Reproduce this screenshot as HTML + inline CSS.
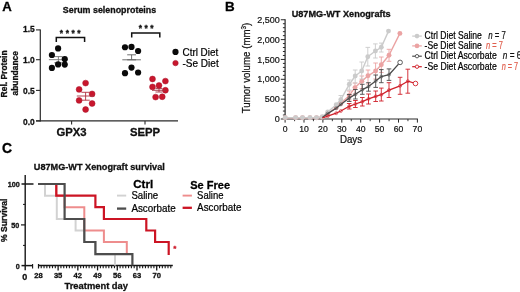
<!DOCTYPE html>
<html lang="en"><head><meta charset="utf-8"><title>Figure</title>
<style>
html,body{margin:0;padding:0;background:#fff;}
body{width:520px;height:292px;overflow:hidden;}
svg{display:block;font-family:'Liberation Sans', Arial, sans-serif;}
</style></head><body>
<svg width="520" height="292" viewBox="0 0 520 292">
<rect width="520" height="292" fill="#ffffff"/>
<g id="panelA">
<text x="2.3" y="11.2" font-size="13.2" font-weight="700" fill="#000" stroke="#000" stroke-width="0.3">A</text>
<text x="62.8" y="12.9" font-size="9.2" font-weight="700" fill="#111" stroke="#111" stroke-width="0.3" textLength="93.4" lengthAdjust="spacingAndGlyphs">Serum selenoproteins</text>
<line x1="40.3" y1="29.4" x2="40.3" y2="121.4" stroke="#2a2a2a" stroke-width="1.2"/>
<line x1="36" y1="120.9" x2="178" y2="120.9" stroke="#2a2a2a" stroke-width="1.2"/>
<line x1="36" y1="29.9" x2="40.3" y2="29.9" stroke="#2a2a2a" stroke-width="1.1"/>
<text x="34.7" y="32.4" font-size="9.7" font-weight="700" text-anchor="end" fill="#111" stroke="#111" stroke-width="0.3" textLength="11.7" lengthAdjust="spacingAndGlyphs">1.5</text>
<line x1="36" y1="59.7" x2="40.3" y2="59.7" stroke="#2a2a2a" stroke-width="1.1"/>
<text x="34.7" y="63.25" font-size="9.7" font-weight="700" text-anchor="end" fill="#111" stroke="#111" stroke-width="0.3" textLength="11.7" lengthAdjust="spacingAndGlyphs">1.0</text>
<line x1="36" y1="90.4" x2="40.3" y2="90.4" stroke="#2a2a2a" stroke-width="1.1"/>
<text x="34.7" y="93.7" font-size="9.7" font-weight="700" text-anchor="end" fill="#111" stroke="#111" stroke-width="0.3" textLength="11.7" lengthAdjust="spacingAndGlyphs">0.5</text>
<line x1="36" y1="120.9" x2="40.3" y2="120.9" stroke="#2a2a2a" stroke-width="1.1"/>
<text x="34.7" y="124.5" font-size="9.7" font-weight="700" text-anchor="end" fill="#111" stroke="#111" stroke-width="0.3" textLength="11.7" lengthAdjust="spacingAndGlyphs">0.0</text>
<line x1="71.6" y1="120.9" x2="71.6" y2="124.4" stroke="#2a2a2a" stroke-width="1.1"/>
<line x1="145" y1="120.9" x2="145" y2="124.4" stroke="#2a2a2a" stroke-width="1.1"/>
<text x="71.6" y="136.4" font-size="11.3" font-weight="700" text-anchor="middle" fill="#111" stroke="#111" stroke-width="0.3">GPX3</text>
<text x="145" y="136.4" font-size="11.3" font-weight="700" text-anchor="middle" fill="#111" stroke="#111" stroke-width="0.3">SEPP</text>
<text font-size="8.5" font-weight="700" fill="#111" stroke="#111" stroke-width="0.3" text-anchor="middle" transform="translate(6.9 73.9) rotate(-90)" textLength="47" lengthAdjust="spacingAndGlyphs">Rel. Protein</text>
<text font-size="8.4" font-weight="700" fill="#111" stroke="#111" stroke-width="0.3" text-anchor="middle" transform="translate(17.5 73.3) rotate(-90)" textLength="44.4" lengthAdjust="spacingAndGlyphs">abundance</text>
<path d="M56.3 42 V37.6 H84.6 V42" fill="none" stroke="#111" stroke-width="1.5"/>
<path d="M131.7 37.4 V33 H159.8 V37.4" fill="none" stroke="#111" stroke-width="1.5"/>
<text x="61.3" y="35.8" font-size="8.4" font-weight="700" text-anchor="middle" fill="#111" stroke="#111" stroke-width="0.3">*</text>
<text x="67.4" y="35.8" font-size="8.4" font-weight="700" text-anchor="middle" fill="#111" stroke="#111" stroke-width="0.3">*</text>
<text x="73.2" y="35.8" font-size="8.4" font-weight="700" text-anchor="middle" fill="#111" stroke="#111" stroke-width="0.3">*</text>
<text x="78.9" y="35.8" font-size="8.4" font-weight="700" text-anchor="middle" fill="#111" stroke="#111" stroke-width="0.3">*</text>
<text x="140.4" y="30.9" font-size="8.4" font-weight="700" text-anchor="middle" fill="#111" stroke="#111" stroke-width="0.3">*</text>
<text x="146.2" y="30.9" font-size="8.4" font-weight="700" text-anchor="middle" fill="#111" stroke="#111" stroke-width="0.3">*</text>
<text x="151.9" y="30.9" font-size="8.4" font-weight="700" text-anchor="middle" fill="#111" stroke="#111" stroke-width="0.3">*</text>
<line x1="48.9" y1="59.7" x2="67.9" y2="59.7" stroke="#707070" stroke-width="0.9"/>
<line x1="58.4" y1="56.6" x2="58.4" y2="62.8" stroke="#707070" stroke-width="0.9"/>
<line x1="54.199999999999996" y1="56.6" x2="62.6" y2="56.6" stroke="#707070" stroke-width="0.9"/>
<line x1="54.199999999999996" y1="62.8" x2="62.6" y2="62.8" stroke="#707070" stroke-width="0.9"/>
<circle cx="58.1" cy="48.4" r="3.1" fill="#0a0a0a"/>
<circle cx="51.9" cy="55" r="3.1" fill="#0a0a0a"/>
<circle cx="64.75" cy="59" r="3.1" fill="#0a0a0a"/>
<circle cx="58.1" cy="64.4" r="3.1" fill="#0a0a0a"/>
<circle cx="64.75" cy="64.6" r="3.1" fill="#0a0a0a"/>
<circle cx="51.9" cy="67.9" r="3.1" fill="#0a0a0a"/>
<circle cx="85.6" cy="83.1" r="2.95" fill="#c8172d" stroke="#a8122a" stroke-width="0.5"/>
<circle cx="79.1" cy="89.4" r="2.95" fill="#c8172d" stroke="#a8122a" stroke-width="0.5"/>
<circle cx="92.1" cy="93.9" r="2.95" fill="#c8172d" stroke="#a8122a" stroke-width="0.5"/>
<circle cx="79.1" cy="100.4" r="2.95" fill="#c8172d" stroke="#a8122a" stroke-width="0.5"/>
<circle cx="92.1" cy="103.5" r="2.95" fill="#c8172d" stroke="#a8122a" stroke-width="0.5"/>
<circle cx="85.6" cy="109.5" r="2.95" fill="#c8172d" stroke="#a8122a" stroke-width="0.5"/>
<line x1="76.8" y1="96" x2="94.39999999999999" y2="96" stroke="#b03040" stroke-width="0.9"/>
<line x1="85.6" y1="92.3" x2="85.6" y2="100.2" stroke="#b03040" stroke-width="0.9"/>
<line x1="81.39999999999999" y1="92.3" x2="89.8" y2="92.3" stroke="#b03040" stroke-width="0.9"/>
<line x1="81.39999999999999" y1="100.2" x2="89.8" y2="100.2" stroke="#b03040" stroke-width="0.9"/>
<line x1="122.3" y1="59.8" x2="140.9" y2="59.8" stroke="#606060" stroke-width="0.9"/>
<line x1="131.6" y1="54.8" x2="131.6" y2="59.8" stroke="#606060" stroke-width="0.9"/>
<line x1="127.19999999999999" y1="54.8" x2="136.0" y2="54.8" stroke="#606060" stroke-width="0.9"/>
<line x1="127.19999999999999" y1="59.8" x2="136.0" y2="59.8" stroke="#606060" stroke-width="0.9"/>
<circle cx="125" cy="47.25" r="3.1" fill="#0a0a0a"/>
<circle cx="131.5" cy="46.9" r="3.1" fill="#0a0a0a"/>
<circle cx="138.1" cy="51" r="3.1" fill="#0a0a0a"/>
<circle cx="131.5" cy="67.6" r="3.1" fill="#0a0a0a"/>
<circle cx="125" cy="73.2" r="3.1" fill="#0a0a0a"/>
<circle cx="138.1" cy="72.5" r="3.1" fill="#0a0a0a"/>
<circle cx="152.5" cy="79" r="2.95" fill="#c8172d" stroke="#a8122a" stroke-width="0.5"/>
<circle cx="165.4" cy="81.1" r="2.95" fill="#c8172d" stroke="#a8122a" stroke-width="0.5"/>
<circle cx="159" cy="85.5" r="2.95" fill="#c8172d" stroke="#a8122a" stroke-width="0.5"/>
<circle cx="152.5" cy="86.9" r="2.95" fill="#c8172d" stroke="#a8122a" stroke-width="0.5"/>
<circle cx="165.4" cy="90.25" r="2.95" fill="#c8172d" stroke="#a8122a" stroke-width="0.5"/>
<circle cx="155.6" cy="97.1" r="2.95" fill="#c8172d" stroke="#a8122a" stroke-width="0.5"/>
<circle cx="162.25" cy="96.75" r="2.95" fill="#c8172d" stroke="#a8122a" stroke-width="0.5"/>
<line x1="152" y1="90.3" x2="166" y2="90.3" stroke="#a03040" stroke-width="0.9"/>
<line x1="159" y1="88.6" x2="159" y2="92" stroke="#a03040" stroke-width="0.9"/>
<line x1="155.5" y1="88.6" x2="162.5" y2="88.6" stroke="#a03040" stroke-width="0.9"/>
<line x1="155.5" y1="92" x2="162.5" y2="92" stroke="#a03040" stroke-width="0.9"/>
<circle cx="175.5" cy="51.9" r="3.1" fill="#0a0a0a"/>
<circle cx="175.5" cy="63.1" r="2.7" fill="#c8172d" stroke="#a8122a" stroke-width="0.6"/>
<text x="182.5" y="55.5" font-size="10.6" fill="#000" stroke="#000" stroke-width="0.22" textLength="35.7" lengthAdjust="spacingAndGlyphs">Ctrl Diet</text>
<text x="182.5" y="66.6" font-size="10.6" fill="#000" stroke="#000" stroke-width="0.22" textLength="36.2" lengthAdjust="spacingAndGlyphs">-Se Diet</text>
</g>
<g id="panelB">
<text x="225.1" y="10.8" font-size="13.4" font-weight="700" fill="#000" stroke="#000" stroke-width="0.3">B</text>
<text x="291.7" y="17.0" font-size="9.1" font-weight="700" fill="#111" stroke="#111" stroke-width="0.3" textLength="99" lengthAdjust="spacingAndGlyphs">U87MG-WT Xenografts</text>
<line x1="285.1" y1="19.3" x2="285.1" y2="119.5" stroke="#2a2a2a" stroke-width="1.2"/>
<line x1="284.5" y1="119.0" x2="417.9" y2="119.0" stroke="#2a2a2a" stroke-width="1.2"/>
<line x1="280.8" y1="119.0" x2="285.1" y2="119.0" stroke="#2a2a2a" stroke-width="1"/>
<text transform="translate(279.70000000000005 122.1) scale(0.95 1)" font-size="9.5" text-anchor="end" fill="#111" stroke="#111" stroke-width="0.22">0</text>
<line x1="282.90000000000003" y1="115.03" x2="285.1" y2="115.03" stroke="#2a2a2a" stroke-width="1"/>
<line x1="282.90000000000003" y1="111.06" x2="285.1" y2="111.06" stroke="#2a2a2a" stroke-width="1"/>
<line x1="282.90000000000003" y1="107.09" x2="285.1" y2="107.09" stroke="#2a2a2a" stroke-width="1"/>
<line x1="282.90000000000003" y1="103.12" x2="285.1" y2="103.12" stroke="#2a2a2a" stroke-width="1"/>
<line x1="280.8" y1="99.15" x2="285.1" y2="99.15" stroke="#2a2a2a" stroke-width="1"/>
<text transform="translate(279.70000000000005 102.25) scale(0.95 1)" font-size="9.5" text-anchor="end" fill="#111" stroke="#111" stroke-width="0.22">500</text>
<line x1="282.90000000000003" y1="95.18" x2="285.1" y2="95.18" stroke="#2a2a2a" stroke-width="1"/>
<line x1="282.90000000000003" y1="91.21000000000001" x2="285.1" y2="91.21000000000001" stroke="#2a2a2a" stroke-width="1"/>
<line x1="282.90000000000003" y1="87.24000000000001" x2="285.1" y2="87.24000000000001" stroke="#2a2a2a" stroke-width="1"/>
<line x1="282.90000000000003" y1="83.27000000000001" x2="285.1" y2="83.27000000000001" stroke="#2a2a2a" stroke-width="1"/>
<line x1="280.8" y1="79.30000000000001" x2="285.1" y2="79.30000000000001" stroke="#2a2a2a" stroke-width="1"/>
<text transform="translate(279.70000000000005 82.4) scale(0.95 1)" font-size="9.5" text-anchor="end" fill="#111" stroke="#111" stroke-width="0.22">1,000</text>
<line x1="282.90000000000003" y1="75.33" x2="285.1" y2="75.33" stroke="#2a2a2a" stroke-width="1"/>
<line x1="282.90000000000003" y1="71.36" x2="285.1" y2="71.36" stroke="#2a2a2a" stroke-width="1"/>
<line x1="282.90000000000003" y1="67.39" x2="285.1" y2="67.39" stroke="#2a2a2a" stroke-width="1"/>
<line x1="282.90000000000003" y1="63.42" x2="285.1" y2="63.42" stroke="#2a2a2a" stroke-width="1"/>
<line x1="280.8" y1="59.45" x2="285.1" y2="59.45" stroke="#2a2a2a" stroke-width="1"/>
<text transform="translate(279.70000000000005 62.550000000000004) scale(0.95 1)" font-size="9.5" text-anchor="end" fill="#111" stroke="#111" stroke-width="0.22">1,500</text>
<line x1="282.90000000000003" y1="55.480000000000004" x2="285.1" y2="55.480000000000004" stroke="#2a2a2a" stroke-width="1"/>
<line x1="282.90000000000003" y1="51.510000000000005" x2="285.1" y2="51.510000000000005" stroke="#2a2a2a" stroke-width="1"/>
<line x1="282.90000000000003" y1="47.540000000000006" x2="285.1" y2="47.540000000000006" stroke="#2a2a2a" stroke-width="1"/>
<line x1="282.90000000000003" y1="43.57000000000001" x2="285.1" y2="43.57000000000001" stroke="#2a2a2a" stroke-width="1"/>
<line x1="280.8" y1="39.60000000000001" x2="285.1" y2="39.60000000000001" stroke="#2a2a2a" stroke-width="1"/>
<text transform="translate(279.70000000000005 42.70000000000001) scale(0.95 1)" font-size="9.5" text-anchor="end" fill="#111" stroke="#111" stroke-width="0.22">2,000</text>
<line x1="282.90000000000003" y1="35.629999999999995" x2="285.1" y2="35.629999999999995" stroke="#2a2a2a" stroke-width="1"/>
<line x1="282.90000000000003" y1="31.659999999999997" x2="285.1" y2="31.659999999999997" stroke="#2a2a2a" stroke-width="1"/>
<line x1="282.90000000000003" y1="27.689999999999998" x2="285.1" y2="27.689999999999998" stroke="#2a2a2a" stroke-width="1"/>
<line x1="282.90000000000003" y1="23.72" x2="285.1" y2="23.72" stroke="#2a2a2a" stroke-width="1"/>
<line x1="280.8" y1="19.75" x2="285.1" y2="19.75" stroke="#2a2a2a" stroke-width="1"/>
<text transform="translate(279.70000000000005 22.85) scale(0.95 1)" font-size="9.5" text-anchor="end" fill="#111" stroke="#111" stroke-width="0.22">2,500</text>
<line x1="285.1" y1="119.0" x2="285.1" y2="122.6" stroke="#2a2a2a" stroke-width="1"/>
<text transform="translate(285.1 132.2) scale(0.9 1)" font-size="9.6" text-anchor="middle" fill="#111" stroke="#111" stroke-width="0.22">0</text>
<line x1="294.55" y1="119.0" x2="294.55" y2="121.2" stroke="#2a2a2a" stroke-width="0.9"/>
<line x1="304.0" y1="119.0" x2="304.0" y2="122.6" stroke="#2a2a2a" stroke-width="1"/>
<text transform="translate(304.0 132.2) scale(0.9 1)" font-size="9.6" text-anchor="middle" fill="#111" stroke="#111" stroke-width="0.22">10</text>
<line x1="313.45000000000005" y1="119.0" x2="313.45000000000005" y2="121.2" stroke="#2a2a2a" stroke-width="0.9"/>
<line x1="322.90000000000003" y1="119.0" x2="322.90000000000003" y2="122.6" stroke="#2a2a2a" stroke-width="1"/>
<text transform="translate(322.90000000000003 132.2) scale(0.9 1)" font-size="9.6" text-anchor="middle" fill="#111" stroke="#111" stroke-width="0.22">20</text>
<line x1="332.35" y1="119.0" x2="332.35" y2="121.2" stroke="#2a2a2a" stroke-width="0.9"/>
<line x1="341.8" y1="119.0" x2="341.8" y2="122.6" stroke="#2a2a2a" stroke-width="1"/>
<text transform="translate(341.8 132.2) scale(0.9 1)" font-size="9.6" text-anchor="middle" fill="#111" stroke="#111" stroke-width="0.22">30</text>
<line x1="351.25" y1="119.0" x2="351.25" y2="121.2" stroke="#2a2a2a" stroke-width="0.9"/>
<line x1="360.70000000000005" y1="119.0" x2="360.70000000000005" y2="122.6" stroke="#2a2a2a" stroke-width="1"/>
<text transform="translate(360.70000000000005 132.2) scale(0.9 1)" font-size="9.6" text-anchor="middle" fill="#111" stroke="#111" stroke-width="0.22">40</text>
<line x1="370.15000000000003" y1="119.0" x2="370.15000000000003" y2="121.2" stroke="#2a2a2a" stroke-width="0.9"/>
<line x1="379.6" y1="119.0" x2="379.6" y2="122.6" stroke="#2a2a2a" stroke-width="1"/>
<text transform="translate(379.6 132.2) scale(0.9 1)" font-size="9.6" text-anchor="middle" fill="#111" stroke="#111" stroke-width="0.22">50</text>
<line x1="389.05" y1="119.0" x2="389.05" y2="121.2" stroke="#2a2a2a" stroke-width="0.9"/>
<line x1="398.5" y1="119.0" x2="398.5" y2="122.6" stroke="#2a2a2a" stroke-width="1"/>
<text transform="translate(398.5 132.2) scale(0.9 1)" font-size="9.6" text-anchor="middle" fill="#111" stroke="#111" stroke-width="0.22">60</text>
<line x1="407.95000000000005" y1="119.0" x2="407.95000000000005" y2="121.2" stroke="#2a2a2a" stroke-width="0.9"/>
<line x1="417.4" y1="119.0" x2="417.4" y2="122.6" stroke="#2a2a2a" stroke-width="1"/>
<text transform="translate(417.4 132.2) scale(0.9 1)" font-size="9.6" text-anchor="middle" fill="#111" stroke="#111" stroke-width="0.22">70</text>
<text x="351" y="143.4" font-size="10.2" text-anchor="middle" fill="#111" stroke="#111" stroke-width="0.22" textLength="22.2" lengthAdjust="spacingAndGlyphs">Days</text>
<text font-size="10" fill="#111" stroke="#111" stroke-width="0.22" transform="translate(250 113.2) rotate(-90)"><tspan textLength="83.8" lengthAdjust="spacingAndGlyphs">Tumor volume (mm</tspan><tspan font-size="6.3" dy="-4.2">3</tspan><tspan dy="4.2">)</tspan></text>
<line x1="349.3" y1="91" x2="349.3" y2="100" stroke="#eba3a3" stroke-width="0.9"/>
<line x1="347.0" y1="91" x2="351.6" y2="91" stroke="#eba3a3" stroke-width="0.9"/>
<line x1="347.0" y1="100" x2="351.6" y2="100" stroke="#eba3a3" stroke-width="0.9"/>
<line x1="355" y1="83" x2="355" y2="94" stroke="#eba3a3" stroke-width="0.9"/>
<line x1="352.7" y1="83" x2="357.3" y2="83" stroke="#eba3a3" stroke-width="0.9"/>
<line x1="352.7" y1="94" x2="357.3" y2="94" stroke="#eba3a3" stroke-width="0.9"/>
<line x1="361.8" y1="76" x2="361.8" y2="88.5" stroke="#eba3a3" stroke-width="0.9"/>
<line x1="359.5" y1="76" x2="364.1" y2="76" stroke="#eba3a3" stroke-width="0.9"/>
<line x1="359.5" y1="88.5" x2="364.1" y2="88.5" stroke="#eba3a3" stroke-width="0.9"/>
<line x1="368" y1="70" x2="368" y2="84" stroke="#eba3a3" stroke-width="0.9"/>
<line x1="365.7" y1="70" x2="370.3" y2="70" stroke="#eba3a3" stroke-width="0.9"/>
<line x1="365.7" y1="84" x2="370.3" y2="84" stroke="#eba3a3" stroke-width="0.9"/>
<line x1="375.6" y1="63" x2="375.6" y2="79" stroke="#eba3a3" stroke-width="0.9"/>
<line x1="373.3" y1="63" x2="377.90000000000003" y2="63" stroke="#eba3a3" stroke-width="0.9"/>
<line x1="373.3" y1="79" x2="377.90000000000003" y2="79" stroke="#eba3a3" stroke-width="0.9"/>
<line x1="381.3" y1="57" x2="381.3" y2="72.5" stroke="#eba3a3" stroke-width="0.9"/>
<line x1="379.0" y1="57" x2="383.6" y2="57" stroke="#eba3a3" stroke-width="0.9"/>
<line x1="379.0" y1="72.5" x2="383.6" y2="72.5" stroke="#eba3a3" stroke-width="0.9"/>
<line x1="389" y1="49.3" x2="389" y2="61.3" stroke="#eba3a3" stroke-width="0.9"/>
<line x1="386.7" y1="49.3" x2="391.3" y2="49.3" stroke="#eba3a3" stroke-width="0.9"/>
<line x1="386.7" y1="61.3" x2="391.3" y2="61.3" stroke="#eba3a3" stroke-width="0.9"/>
<polyline points="285.2,117.8 295.6,117.8 302.5,117.8 310,117.8 316.5,117.8 322.3,117.2 327.7,113.5 336.2,107.5 340.8,103.5 349.3,95.4 355,87.6 361.8,81.2 368,75.8 375.6,71 381.3,64.8 389,55.3 399.9,33.4" fill="none" stroke="#eba3a3" stroke-width="1.4" stroke-linejoin="round"/>
<circle cx="285.2" cy="117.8" r="2.45" fill="#eba3a3"/>
<circle cx="295.6" cy="117.8" r="2.45" fill="#eba3a3"/>
<circle cx="302.5" cy="117.8" r="2.45" fill="#eba3a3"/>
<circle cx="310" cy="117.8" r="2.45" fill="#eba3a3"/>
<circle cx="316.5" cy="117.8" r="2.45" fill="#eba3a3"/>
<circle cx="322.3" cy="117.2" r="2.45" fill="#eba3a3"/>
<circle cx="327.7" cy="113.5" r="2.45" fill="#eba3a3"/>
<circle cx="336.2" cy="107.5" r="2.45" fill="#eba3a3"/>
<circle cx="340.8" cy="103.5" r="2.45" fill="#eba3a3"/>
<circle cx="349.3" cy="95.4" r="2.45" fill="#eba3a3"/>
<circle cx="355" cy="87.6" r="2.45" fill="#eba3a3"/>
<circle cx="361.8" cy="81.2" r="2.45" fill="#eba3a3"/>
<circle cx="368" cy="75.8" r="2.45" fill="#eba3a3"/>
<circle cx="375.6" cy="71" r="2.45" fill="#eba3a3"/>
<circle cx="381.3" cy="64.8" r="2.45" fill="#eba3a3"/>
<circle cx="389" cy="55.3" r="2.45" fill="#eba3a3"/>
<circle cx="399.9" cy="33.4" r="2.45" fill="#eba3a3"/>
<line x1="340.8" y1="95.5" x2="340.8" y2="103.5" stroke="#cbcbcb" stroke-width="0.9"/>
<line x1="338.5" y1="95.5" x2="343.1" y2="95.5" stroke="#cbcbcb" stroke-width="0.9"/>
<line x1="338.5" y1="103.5" x2="343.1" y2="103.5" stroke="#cbcbcb" stroke-width="0.9"/>
<line x1="349.3" y1="80" x2="349.3" y2="90" stroke="#cbcbcb" stroke-width="0.9"/>
<line x1="347.0" y1="80" x2="351.6" y2="80" stroke="#cbcbcb" stroke-width="0.9"/>
<line x1="347.0" y1="90" x2="351.6" y2="90" stroke="#cbcbcb" stroke-width="0.9"/>
<line x1="355.2" y1="70" x2="355.2" y2="83" stroke="#cbcbcb" stroke-width="0.9"/>
<line x1="352.9" y1="70" x2="357.5" y2="70" stroke="#cbcbcb" stroke-width="0.9"/>
<line x1="352.9" y1="83" x2="357.5" y2="83" stroke="#cbcbcb" stroke-width="0.9"/>
<line x1="361.7" y1="62" x2="361.7" y2="79" stroke="#cbcbcb" stroke-width="0.9"/>
<line x1="359.4" y1="62" x2="364.0" y2="62" stroke="#cbcbcb" stroke-width="0.9"/>
<line x1="359.4" y1="79" x2="364.0" y2="79" stroke="#cbcbcb" stroke-width="0.9"/>
<line x1="367.8" y1="47.4" x2="367.8" y2="66" stroke="#cbcbcb" stroke-width="0.9"/>
<line x1="365.5" y1="47.4" x2="370.1" y2="47.4" stroke="#cbcbcb" stroke-width="0.9"/>
<line x1="365.5" y1="66" x2="370.1" y2="66" stroke="#cbcbcb" stroke-width="0.9"/>
<line x1="375.4" y1="43.9" x2="375.4" y2="58" stroke="#cbcbcb" stroke-width="0.9"/>
<line x1="373.09999999999997" y1="43.9" x2="377.7" y2="43.9" stroke="#cbcbcb" stroke-width="0.9"/>
<line x1="373.09999999999997" y1="58" x2="377.7" y2="58" stroke="#cbcbcb" stroke-width="0.9"/>
<line x1="381.3" y1="43.1" x2="381.3" y2="52" stroke="#cbcbcb" stroke-width="0.9"/>
<line x1="379.0" y1="43.1" x2="383.6" y2="43.1" stroke="#cbcbcb" stroke-width="0.9"/>
<line x1="379.0" y1="52" x2="383.6" y2="52" stroke="#cbcbcb" stroke-width="0.9"/>
<polyline points="285.2,117.6 295.6,117.6 302.5,117.6 310,117.6 316.5,117.6 322.3,116.8 327.7,112 336.2,104.7 340.8,99.7 349.3,84.3 355.2,76 361.7,71 367.8,56.8 375.4,51 381.3,47.3 388.5,31.1" fill="none" stroke="#cbcbcb" stroke-width="1.4" stroke-linejoin="round"/>
<circle cx="285.2" cy="117.6" r="2.45" fill="#cbcbcb"/>
<circle cx="295.6" cy="117.6" r="2.45" fill="#cbcbcb"/>
<circle cx="302.5" cy="117.6" r="2.45" fill="#cbcbcb"/>
<circle cx="310" cy="117.6" r="2.45" fill="#cbcbcb"/>
<circle cx="316.5" cy="117.6" r="2.45" fill="#cbcbcb"/>
<circle cx="322.3" cy="116.8" r="2.45" fill="#cbcbcb"/>
<circle cx="327.7" cy="112" r="2.45" fill="#cbcbcb"/>
<circle cx="336.2" cy="104.7" r="2.45" fill="#cbcbcb"/>
<circle cx="340.8" cy="99.7" r="2.45" fill="#cbcbcb"/>
<circle cx="349.3" cy="84.3" r="2.45" fill="#cbcbcb"/>
<circle cx="355.2" cy="76" r="2.45" fill="#cbcbcb"/>
<circle cx="361.7" cy="71" r="2.45" fill="#cbcbcb"/>
<circle cx="367.8" cy="56.8" r="2.45" fill="#cbcbcb"/>
<circle cx="375.4" cy="51" r="2.45" fill="#cbcbcb"/>
<circle cx="381.3" cy="47.3" r="2.45" fill="#cbcbcb"/>
<circle cx="388.5" cy="31.1" r="2.45" fill="#cbcbcb"/>
<line x1="349.2" y1="94.5" x2="349.2" y2="101.5" stroke="#4b4b4b" stroke-width="0.9"/>
<line x1="346.9" y1="94.5" x2="351.5" y2="94.5" stroke="#4b4b4b" stroke-width="0.9"/>
<line x1="346.9" y1="101.5" x2="351.5" y2="101.5" stroke="#4b4b4b" stroke-width="0.9"/>
<line x1="355.4" y1="89.5" x2="355.4" y2="99" stroke="#4b4b4b" stroke-width="0.9"/>
<line x1="353.09999999999997" y1="89.5" x2="357.7" y2="89.5" stroke="#4b4b4b" stroke-width="0.9"/>
<line x1="353.09999999999997" y1="99" x2="357.7" y2="99" stroke="#4b4b4b" stroke-width="0.9"/>
<line x1="362.3" y1="84.3" x2="362.3" y2="94.3" stroke="#4b4b4b" stroke-width="0.9"/>
<line x1="360.0" y1="84.3" x2="364.6" y2="84.3" stroke="#4b4b4b" stroke-width="0.9"/>
<line x1="360.0" y1="94.3" x2="364.6" y2="94.3" stroke="#4b4b4b" stroke-width="0.9"/>
<line x1="368.5" y1="82.7" x2="368.5" y2="91.2" stroke="#4b4b4b" stroke-width="0.9"/>
<line x1="366.2" y1="82.7" x2="370.8" y2="82.7" stroke="#4b4b4b" stroke-width="0.9"/>
<line x1="366.2" y1="91.2" x2="370.8" y2="91.2" stroke="#4b4b4b" stroke-width="0.9"/>
<line x1="375.7" y1="75" x2="375.7" y2="87.4" stroke="#4b4b4b" stroke-width="0.9"/>
<line x1="373.4" y1="75" x2="378.0" y2="75" stroke="#4b4b4b" stroke-width="0.9"/>
<line x1="373.4" y1="87.4" x2="378.0" y2="87.4" stroke="#4b4b4b" stroke-width="0.9"/>
<line x1="381.3" y1="69.6" x2="381.3" y2="82.7" stroke="#4b4b4b" stroke-width="0.9"/>
<line x1="379.0" y1="69.6" x2="383.6" y2="69.6" stroke="#4b4b4b" stroke-width="0.9"/>
<line x1="379.0" y1="82.7" x2="383.6" y2="82.7" stroke="#4b4b4b" stroke-width="0.9"/>
<line x1="389" y1="68.9" x2="389" y2="80.4" stroke="#4b4b4b" stroke-width="0.9"/>
<line x1="386.7" y1="68.9" x2="391.3" y2="68.9" stroke="#4b4b4b" stroke-width="0.9"/>
<line x1="386.7" y1="80.4" x2="391.3" y2="80.4" stroke="#4b4b4b" stroke-width="0.9"/>
<polyline points="322.3,117.5 327.7,113.6 336.2,108.3 340.8,104.4 349.2,98.1 355.4,94.3 362.3,89.7 368.5,86.6 375.7,80.9 381.3,76.6 389,74.7 400.1,62.4" fill="none" stroke="#4b4b4b" stroke-width="1.3" stroke-linejoin="round"/>
<circle cx="327.7" cy="113.6" r="1.5" fill="none" stroke="#4b4b4b" stroke-width="0.6"/>
<circle cx="336.2" cy="108.3" r="1.5" fill="none" stroke="#4b4b4b" stroke-width="0.6"/>
<circle cx="340.8" cy="104.4" r="1.5" fill="none" stroke="#4b4b4b" stroke-width="0.6"/>
<circle cx="349.2" cy="98.1" r="1.5" fill="none" stroke="#4b4b4b" stroke-width="0.6"/>
<circle cx="355.4" cy="94.3" r="1.5" fill="none" stroke="#4b4b4b" stroke-width="0.6"/>
<circle cx="362.3" cy="89.7" r="1.5" fill="none" stroke="#4b4b4b" stroke-width="0.6"/>
<circle cx="368.5" cy="86.6" r="1.5" fill="none" stroke="#4b4b4b" stroke-width="0.6"/>
<circle cx="375.7" cy="80.9" r="1.5" fill="none" stroke="#4b4b4b" stroke-width="0.6"/>
<circle cx="381.3" cy="76.6" r="1.5" fill="none" stroke="#4b4b4b" stroke-width="0.6"/>
<circle cx="389" cy="74.7" r="1.5" fill="none" stroke="#4b4b4b" stroke-width="0.6"/>
<circle cx="400.1" cy="62.4" r="2.3" fill="#fff" stroke="#4b4b4b" stroke-width="0.9"/>
<line x1="349.2" y1="103.5" x2="349.2" y2="109" stroke="#d0202a" stroke-width="0.9"/>
<line x1="346.9" y1="103.5" x2="351.5" y2="103.5" stroke="#d0202a" stroke-width="0.9"/>
<line x1="346.9" y1="109" x2="351.5" y2="109" stroke="#d0202a" stroke-width="0.9"/>
<line x1="355.4" y1="100.5" x2="355.4" y2="107.5" stroke="#d0202a" stroke-width="0.9"/>
<line x1="353.09999999999997" y1="100.5" x2="357.7" y2="100.5" stroke="#d0202a" stroke-width="0.9"/>
<line x1="353.09999999999997" y1="107.5" x2="357.7" y2="107.5" stroke="#d0202a" stroke-width="0.9"/>
<line x1="362.3" y1="97.5" x2="362.3" y2="106" stroke="#d0202a" stroke-width="0.9"/>
<line x1="360.0" y1="97.5" x2="364.6" y2="97.5" stroke="#d0202a" stroke-width="0.9"/>
<line x1="360.0" y1="106" x2="364.6" y2="106" stroke="#d0202a" stroke-width="0.9"/>
<line x1="368.5" y1="94" x2="368.5" y2="104" stroke="#d0202a" stroke-width="0.9"/>
<line x1="366.2" y1="94" x2="370.8" y2="94" stroke="#d0202a" stroke-width="0.9"/>
<line x1="366.2" y1="104" x2="370.8" y2="104" stroke="#d0202a" stroke-width="0.9"/>
<line x1="375.7" y1="91" x2="375.7" y2="101.5" stroke="#d0202a" stroke-width="0.9"/>
<line x1="373.4" y1="91" x2="378.0" y2="91" stroke="#d0202a" stroke-width="0.9"/>
<line x1="373.4" y1="101.5" x2="378.0" y2="101.5" stroke="#d0202a" stroke-width="0.9"/>
<line x1="381.3" y1="88.1" x2="381.3" y2="101" stroke="#d0202a" stroke-width="0.9"/>
<line x1="379.0" y1="88.1" x2="383.6" y2="88.1" stroke="#d0202a" stroke-width="0.9"/>
<line x1="379.0" y1="101" x2="383.6" y2="101" stroke="#d0202a" stroke-width="0.9"/>
<line x1="389" y1="82.7" x2="389" y2="97.5" stroke="#d0202a" stroke-width="0.9"/>
<line x1="386.7" y1="82.7" x2="391.3" y2="82.7" stroke="#d0202a" stroke-width="0.9"/>
<line x1="386.7" y1="97.5" x2="391.3" y2="97.5" stroke="#d0202a" stroke-width="0.9"/>
<line x1="400.1" y1="77.3" x2="400.1" y2="94.3" stroke="#d0202a" stroke-width="0.9"/>
<line x1="397.8" y1="77.3" x2="402.40000000000003" y2="77.3" stroke="#d0202a" stroke-width="0.9"/>
<line x1="397.8" y1="94.3" x2="402.40000000000003" y2="94.3" stroke="#d0202a" stroke-width="0.9"/>
<line x1="407.8" y1="69.2" x2="407.8" y2="93.2" stroke="#d0202a" stroke-width="0.9"/>
<line x1="405.5" y1="69.2" x2="410.1" y2="69.2" stroke="#d0202a" stroke-width="0.9"/>
<line x1="405.5" y1="93.2" x2="410.1" y2="93.2" stroke="#d0202a" stroke-width="0.9"/>
<polyline points="322.3,118 327.7,116.2 336.2,113.2 340.8,111 349.2,106.3 355.4,104 362.3,101.7 368.5,98.9 375.7,96.3 381.3,94.7 389,90.1 400.1,85.8 407.8,81.2 415.5,83.5" fill="none" stroke="#d0202a" stroke-width="1.3" stroke-linejoin="round"/>
<circle cx="327.7" cy="116.2" r="1.5" fill="none" stroke="#d0202a" stroke-width="0.6"/>
<circle cx="336.2" cy="113.2" r="1.5" fill="none" stroke="#d0202a" stroke-width="0.6"/>
<circle cx="340.8" cy="111" r="1.5" fill="none" stroke="#d0202a" stroke-width="0.6"/>
<circle cx="349.2" cy="106.3" r="1.5" fill="none" stroke="#d0202a" stroke-width="0.6"/>
<circle cx="355.4" cy="104" r="1.5" fill="none" stroke="#d0202a" stroke-width="0.6"/>
<circle cx="362.3" cy="101.7" r="1.5" fill="none" stroke="#d0202a" stroke-width="0.6"/>
<circle cx="368.5" cy="98.9" r="1.5" fill="none" stroke="#d0202a" stroke-width="0.6"/>
<circle cx="375.7" cy="96.3" r="1.5" fill="none" stroke="#d0202a" stroke-width="0.6"/>
<circle cx="381.3" cy="94.7" r="1.5" fill="none" stroke="#d0202a" stroke-width="0.6"/>
<circle cx="389" cy="90.1" r="1.5" fill="none" stroke="#d0202a" stroke-width="0.6"/>
<circle cx="400.1" cy="85.8" r="1.5" fill="none" stroke="#d0202a" stroke-width="0.6"/>
<circle cx="407.8" cy="81.2" r="1.5" fill="none" stroke="#d0202a" stroke-width="0.6"/>
<circle cx="415.5" cy="83.5" r="2.3" fill="#fff" stroke="#d0202a" stroke-width="0.9"/>
<line x1="412.2" y1="36.1" x2="421.8" y2="36.1" stroke="#cbcbcb" stroke-width="1.2"/>
<circle cx="417" cy="36.1" r="2.3" fill="#cbcbcb"/>
<text x="424.6" y="39.300000000000004" font-size="10.2" fill="#000" stroke="#000" stroke-width="0.22" textLength="57.2" lengthAdjust="spacingAndGlyphs">Ctrl Diet Saline</text>
<text x="488.3" y="39.2" font-size="10" fill="#111" stroke="#111" stroke-width="0.2" textLength="17.7" lengthAdjust="spacingAndGlyphs"><tspan font-style="italic">n</tspan> = 7</text>
<line x1="412.2" y1="45.9" x2="421.8" y2="45.9" stroke="#eba3a3" stroke-width="1.2"/>
<circle cx="417" cy="45.9" r="2.3" fill="#eba3a3"/>
<text x="424.6" y="49.2" font-size="10.2" fill="#000" stroke="#000" stroke-width="0.22" textLength="57.2" lengthAdjust="spacingAndGlyphs">-Se Diet Saline</text>
<text x="486" y="49.1" font-size="10" fill="#e0604f" stroke="#e0604f" stroke-width="0.2" textLength="16.8" lengthAdjust="spacingAndGlyphs"><tspan font-style="italic">n</tspan> = 7</text>
<line x1="412.2" y1="56.2" x2="421.8" y2="56.2" stroke="#4b4b4b" stroke-width="1.2"/>
<circle cx="417" cy="56.2" r="1.7" fill="#fff" stroke="#4b4b4b" stroke-width="0.9"/>
<text x="424.6" y="59.4" font-size="10.2" fill="#000" stroke="#000" stroke-width="0.22" textLength="72.1" lengthAdjust="spacingAndGlyphs">Ctrl Diet Ascorbate</text>
<text x="502.8" y="59.3" font-size="10" fill="#111" stroke="#111" stroke-width="0.2" textLength="18.5" lengthAdjust="spacingAndGlyphs"><tspan font-style="italic">n</tspan> = 6</text>
<line x1="412.2" y1="66.7" x2="421.8" y2="66.7" stroke="#d0202a" stroke-width="1.2"/>
<circle cx="417" cy="66.7" r="1.7" fill="#fff" stroke="#d0202a" stroke-width="0.9"/>
<text x="424.6" y="69.6" font-size="10.2" fill="#000" stroke="#000" stroke-width="0.22" textLength="72.1" lengthAdjust="spacingAndGlyphs">-Se Diet Ascorbate</text>
<text x="501.7" y="69.5" font-size="10" fill="#e0604f" stroke="#e0604f" stroke-width="0.2" textLength="16.5" lengthAdjust="spacingAndGlyphs"><tspan font-style="italic">n</tspan> = 7</text>
</g>
<g id="panelC">
<text x="2.1" y="153.3" font-size="13.9" font-weight="700" fill="#000" stroke="#000" stroke-width="0.3">C</text>
<text x="33.8" y="169.5" font-size="9" font-weight="700" fill="#111" stroke="#111" stroke-width="0.3" textLength="131" lengthAdjust="spacingAndGlyphs">U87MG-WT Xenograft survival</text>
<line x1="25.2" y1="175" x2="25.2" y2="270.2" stroke="#161616" stroke-width="1.4"/>
<line x1="21.5" y1="184.0" x2="33.5" y2="184.0" stroke="#161616" stroke-width="1.5"/>
<line x1="21" y1="224.9" x2="25.2" y2="224.9" stroke="#161616" stroke-width="1.2"/>
<line x1="23" y1="204.4" x2="25.2" y2="204.4" stroke="#161616" stroke-width="1"/>
<line x1="23" y1="245.4" x2="25.2" y2="245.4" stroke="#161616" stroke-width="1"/>
<line x1="21.5" y1="265.6" x2="32.8" y2="265.6" stroke="#161616" stroke-width="1.5"/>
<line x1="32.6" y1="264" x2="32.6" y2="268.4" stroke="#161616" stroke-width="1.1"/>
<text x="19.7" y="186.6" font-size="7.2" font-weight="700" text-anchor="end" fill="#111" stroke="#111" stroke-width="0.3">100</text>
<text x="19.2" y="227.5" font-size="7.2" font-weight="700" text-anchor="end" fill="#111" stroke="#111" stroke-width="0.3">50</text>
<text x="19.7" y="268.9" font-size="7.2" font-weight="700" text-anchor="end" fill="#111" stroke="#111" stroke-width="0.3">0</text>
<line x1="38.0" y1="265.6" x2="172.8" y2="265.6" stroke="#161616" stroke-width="1.5"/>
<line x1="38.5" y1="264" x2="38.5" y2="268.5" stroke="#161616" stroke-width="1.2"/>
<line x1="41.217" y1="265.6" x2="41.217" y2="268.2" stroke="#161616" stroke-width="1.1"/>
<line x1="44.034" y1="265.6" x2="44.034" y2="268.2" stroke="#161616" stroke-width="1.1"/>
<line x1="46.851" y1="265.6" x2="46.851" y2="268.2" stroke="#161616" stroke-width="1.1"/>
<line x1="49.668" y1="265.6" x2="49.668" y2="268.2" stroke="#161616" stroke-width="1.1"/>
<line x1="52.485" y1="265.6" x2="52.485" y2="268.2" stroke="#161616" stroke-width="1.1"/>
<line x1="55.302" y1="265.6" x2="55.302" y2="268.2" stroke="#161616" stroke-width="1.1"/>
<line x1="58.119" y1="265.6" x2="58.119" y2="270.4" stroke="#161616" stroke-width="1.3"/>
<line x1="60.936" y1="265.6" x2="60.936" y2="268.2" stroke="#161616" stroke-width="1.1"/>
<line x1="63.753" y1="265.6" x2="63.753" y2="268.2" stroke="#161616" stroke-width="1.1"/>
<line x1="66.57" y1="265.6" x2="66.57" y2="268.2" stroke="#161616" stroke-width="1.1"/>
<line x1="69.387" y1="265.6" x2="69.387" y2="268.2" stroke="#161616" stroke-width="1.1"/>
<line x1="72.20400000000001" y1="265.6" x2="72.20400000000001" y2="268.2" stroke="#161616" stroke-width="1.1"/>
<line x1="75.021" y1="265.6" x2="75.021" y2="268.2" stroke="#161616" stroke-width="1.1"/>
<line x1="77.838" y1="265.6" x2="77.838" y2="270.4" stroke="#161616" stroke-width="1.3"/>
<line x1="80.655" y1="265.6" x2="80.655" y2="268.2" stroke="#161616" stroke-width="1.1"/>
<line x1="83.47200000000001" y1="265.6" x2="83.47200000000001" y2="268.2" stroke="#161616" stroke-width="1.1"/>
<line x1="86.289" y1="265.6" x2="86.289" y2="268.2" stroke="#161616" stroke-width="1.1"/>
<line x1="89.106" y1="265.6" x2="89.106" y2="268.2" stroke="#161616" stroke-width="1.1"/>
<line x1="91.923" y1="265.6" x2="91.923" y2="268.2" stroke="#161616" stroke-width="1.1"/>
<line x1="94.74000000000001" y1="265.6" x2="94.74000000000001" y2="268.2" stroke="#161616" stroke-width="1.1"/>
<line x1="97.557" y1="265.6" x2="97.557" y2="270.4" stroke="#161616" stroke-width="1.3"/>
<line x1="100.374" y1="265.6" x2="100.374" y2="268.2" stroke="#161616" stroke-width="1.1"/>
<line x1="103.191" y1="265.6" x2="103.191" y2="268.2" stroke="#161616" stroke-width="1.1"/>
<line x1="106.00800000000001" y1="265.6" x2="106.00800000000001" y2="268.2" stroke="#161616" stroke-width="1.1"/>
<line x1="108.82500000000002" y1="265.6" x2="108.82500000000002" y2="268.2" stroke="#161616" stroke-width="1.1"/>
<line x1="111.642" y1="265.6" x2="111.642" y2="268.2" stroke="#161616" stroke-width="1.1"/>
<line x1="114.459" y1="265.6" x2="114.459" y2="268.2" stroke="#161616" stroke-width="1.1"/>
<line x1="117.27600000000001" y1="265.6" x2="117.27600000000001" y2="270.4" stroke="#161616" stroke-width="1.3"/>
<line x1="120.09300000000002" y1="265.6" x2="120.09300000000002" y2="268.2" stroke="#161616" stroke-width="1.1"/>
<line x1="122.91" y1="265.6" x2="122.91" y2="268.2" stroke="#161616" stroke-width="1.1"/>
<line x1="125.727" y1="265.6" x2="125.727" y2="268.2" stroke="#161616" stroke-width="1.1"/>
<line x1="128.544" y1="265.6" x2="128.544" y2="268.2" stroke="#161616" stroke-width="1.1"/>
<line x1="131.36100000000002" y1="265.6" x2="131.36100000000002" y2="268.2" stroke="#161616" stroke-width="1.1"/>
<line x1="134.178" y1="265.6" x2="134.178" y2="268.2" stroke="#161616" stroke-width="1.1"/>
<line x1="136.995" y1="265.6" x2="136.995" y2="270.4" stroke="#161616" stroke-width="1.3"/>
<line x1="139.812" y1="265.6" x2="139.812" y2="268.2" stroke="#161616" stroke-width="1.1"/>
<line x1="142.62900000000002" y1="265.6" x2="142.62900000000002" y2="268.2" stroke="#161616" stroke-width="1.1"/>
<line x1="145.446" y1="265.6" x2="145.446" y2="268.2" stroke="#161616" stroke-width="1.1"/>
<line x1="148.263" y1="265.6" x2="148.263" y2="268.2" stroke="#161616" stroke-width="1.1"/>
<line x1="151.08" y1="265.6" x2="151.08" y2="268.2" stroke="#161616" stroke-width="1.1"/>
<line x1="153.89700000000002" y1="265.6" x2="153.89700000000002" y2="268.2" stroke="#161616" stroke-width="1.1"/>
<line x1="156.714" y1="265.6" x2="156.714" y2="270.4" stroke="#161616" stroke-width="1.3"/>
<line x1="159.531" y1="265.6" x2="159.531" y2="268.2" stroke="#161616" stroke-width="1.1"/>
<line x1="162.348" y1="265.6" x2="162.348" y2="268.2" stroke="#161616" stroke-width="1.1"/>
<line x1="165.16500000000002" y1="265.6" x2="165.16500000000002" y2="268.2" stroke="#161616" stroke-width="1.1"/>
<line x1="167.982" y1="265.6" x2="167.982" y2="268.2" stroke="#161616" stroke-width="1.1"/>
<line x1="170.799" y1="265.6" x2="170.799" y2="268.2" stroke="#161616" stroke-width="1.1"/>
<text x="38.4" y="277.9" font-size="7.6" font-weight="700" text-anchor="middle" fill="#111" stroke="#111" stroke-width="0.3">28</text>
<text x="58.119" y="277.9" font-size="7.6" font-weight="700" text-anchor="middle" fill="#111" stroke="#111" stroke-width="0.3">35</text>
<text x="77.838" y="277.9" font-size="7.6" font-weight="700" text-anchor="middle" fill="#111" stroke="#111" stroke-width="0.3">42</text>
<text x="97.557" y="277.9" font-size="7.6" font-weight="700" text-anchor="middle" fill="#111" stroke="#111" stroke-width="0.3">49</text>
<text x="117.27600000000001" y="277.9" font-size="7.6" font-weight="700" text-anchor="middle" fill="#111" stroke="#111" stroke-width="0.3">56</text>
<text x="136.995" y="277.9" font-size="7.6" font-weight="700" text-anchor="middle" fill="#111" stroke="#111" stroke-width="0.3">63</text>
<text x="156.714" y="277.9" font-size="7.6" font-weight="700" text-anchor="middle" fill="#111" stroke="#111" stroke-width="0.3">70</text>
<text x="24.7" y="280.3" font-size="9" font-weight="700" text-anchor="middle" fill="#111" stroke="#111" stroke-width="0.3">0</text>
<text x="64.5" y="289.3" font-size="9.8" font-weight="700" fill="#111" stroke="#111" stroke-width="0.3" textLength="63.5" lengthAdjust="spacingAndGlyphs">Treatment day</text>
<text font-size="9" font-weight="700" fill="#111" stroke="#111" stroke-width="0.3" text-anchor="middle" transform="translate(7.4 220.2) rotate(-90)" textLength="43.4" lengthAdjust="spacingAndGlyphs">% Survival</text>
<polyline points="38.2,184.0 45.0,184.0 45.0,195.7 56.8,195.7 56.8,219 75.6,219 75.6,230.5 84.4,230.5 84.4,242 95.4,242 95.4,254.2 115,254.2 115,265.6" fill="none" stroke="#d2d2d2" stroke-width="2.0" stroke-linejoin="miter"/>
<polyline points="38.5,184.0 56.3,184.0 56.3,195.7 64.6,195.7 64.6,207.2 84.3,207.2 84.3,230.5 103.9,230.5 103.9,242 126.8,242 126.8,254.2" fill="none" stroke="#ee8d8d" stroke-width="2.0" stroke-linejoin="miter"/>
<polyline points="56.3,183.5 56.3,195.7 95.4,195.7 95.4,207.2 103.9,207.2 103.9,219 146.3,219 146.3,230.5 155.1,230.5 155.1,242 168.7,242 168.7,255.0" fill="none" stroke="#cc1424" stroke-width="2.2" stroke-linejoin="miter"/>
<polyline points="38.0,184.0 64.6,184.0 64.6,219 84.3,219 84.3,242 95.4,242 95.4,254.2 132.4,254.2 132.4,265.6" fill="none" stroke="#4d4d4d" stroke-width="2.2" stroke-linejoin="miter"/>
<text x="173.2" y="250.5" font-size="8" font-weight="700" fill="#cc1424" stroke="#cc1424" stroke-width="0.3">*</text>
<text x="143.2" y="188.3" font-size="11.7" font-weight="700" text-anchor="middle" fill="#000" stroke="#000" stroke-width="0.3" textLength="19.9" lengthAdjust="spacingAndGlyphs">Ctrl</text>
<text x="210.2" y="188.6" font-size="11.7" font-weight="700" text-anchor="middle" fill="#000" stroke="#000" stroke-width="0.3" textLength="39.9" lengthAdjust="spacingAndGlyphs">Se Free</text>
<line x1="117" y1="195.6" x2="126.2" y2="195.6" stroke="#d2d2d2" stroke-width="1.9"/>
<line x1="117" y1="208.6" x2="126.2" y2="208.6" stroke="#4d4d4d" stroke-width="2.3"/>
<line x1="182.6" y1="195.6" x2="191.9" y2="195.6" stroke="#ee8d8d" stroke-width="1.9"/>
<line x1="182.6" y1="207.8" x2="191.9" y2="207.8" stroke="#cc1424" stroke-width="2.3"/>
<text x="131.4" y="198.9" font-size="10.7" fill="#000" stroke="#000" stroke-width="0.22" textLength="26.8" lengthAdjust="spacingAndGlyphs">Saline</text>
<text x="131.4" y="212.1" font-size="10.7" fill="#000" stroke="#000" stroke-width="0.22" textLength="44.3" lengthAdjust="spacingAndGlyphs">Ascorbate</text>
<text x="197.1" y="199" font-size="10.7" fill="#000" stroke="#000" stroke-width="0.22" textLength="26.4" lengthAdjust="spacingAndGlyphs">Saline</text>
<text x="197.1" y="211.2" font-size="10.7" fill="#000" stroke="#000" stroke-width="0.22" textLength="44.3" lengthAdjust="spacingAndGlyphs">Ascorbate</text>
</g>
</svg>
</body></html>
